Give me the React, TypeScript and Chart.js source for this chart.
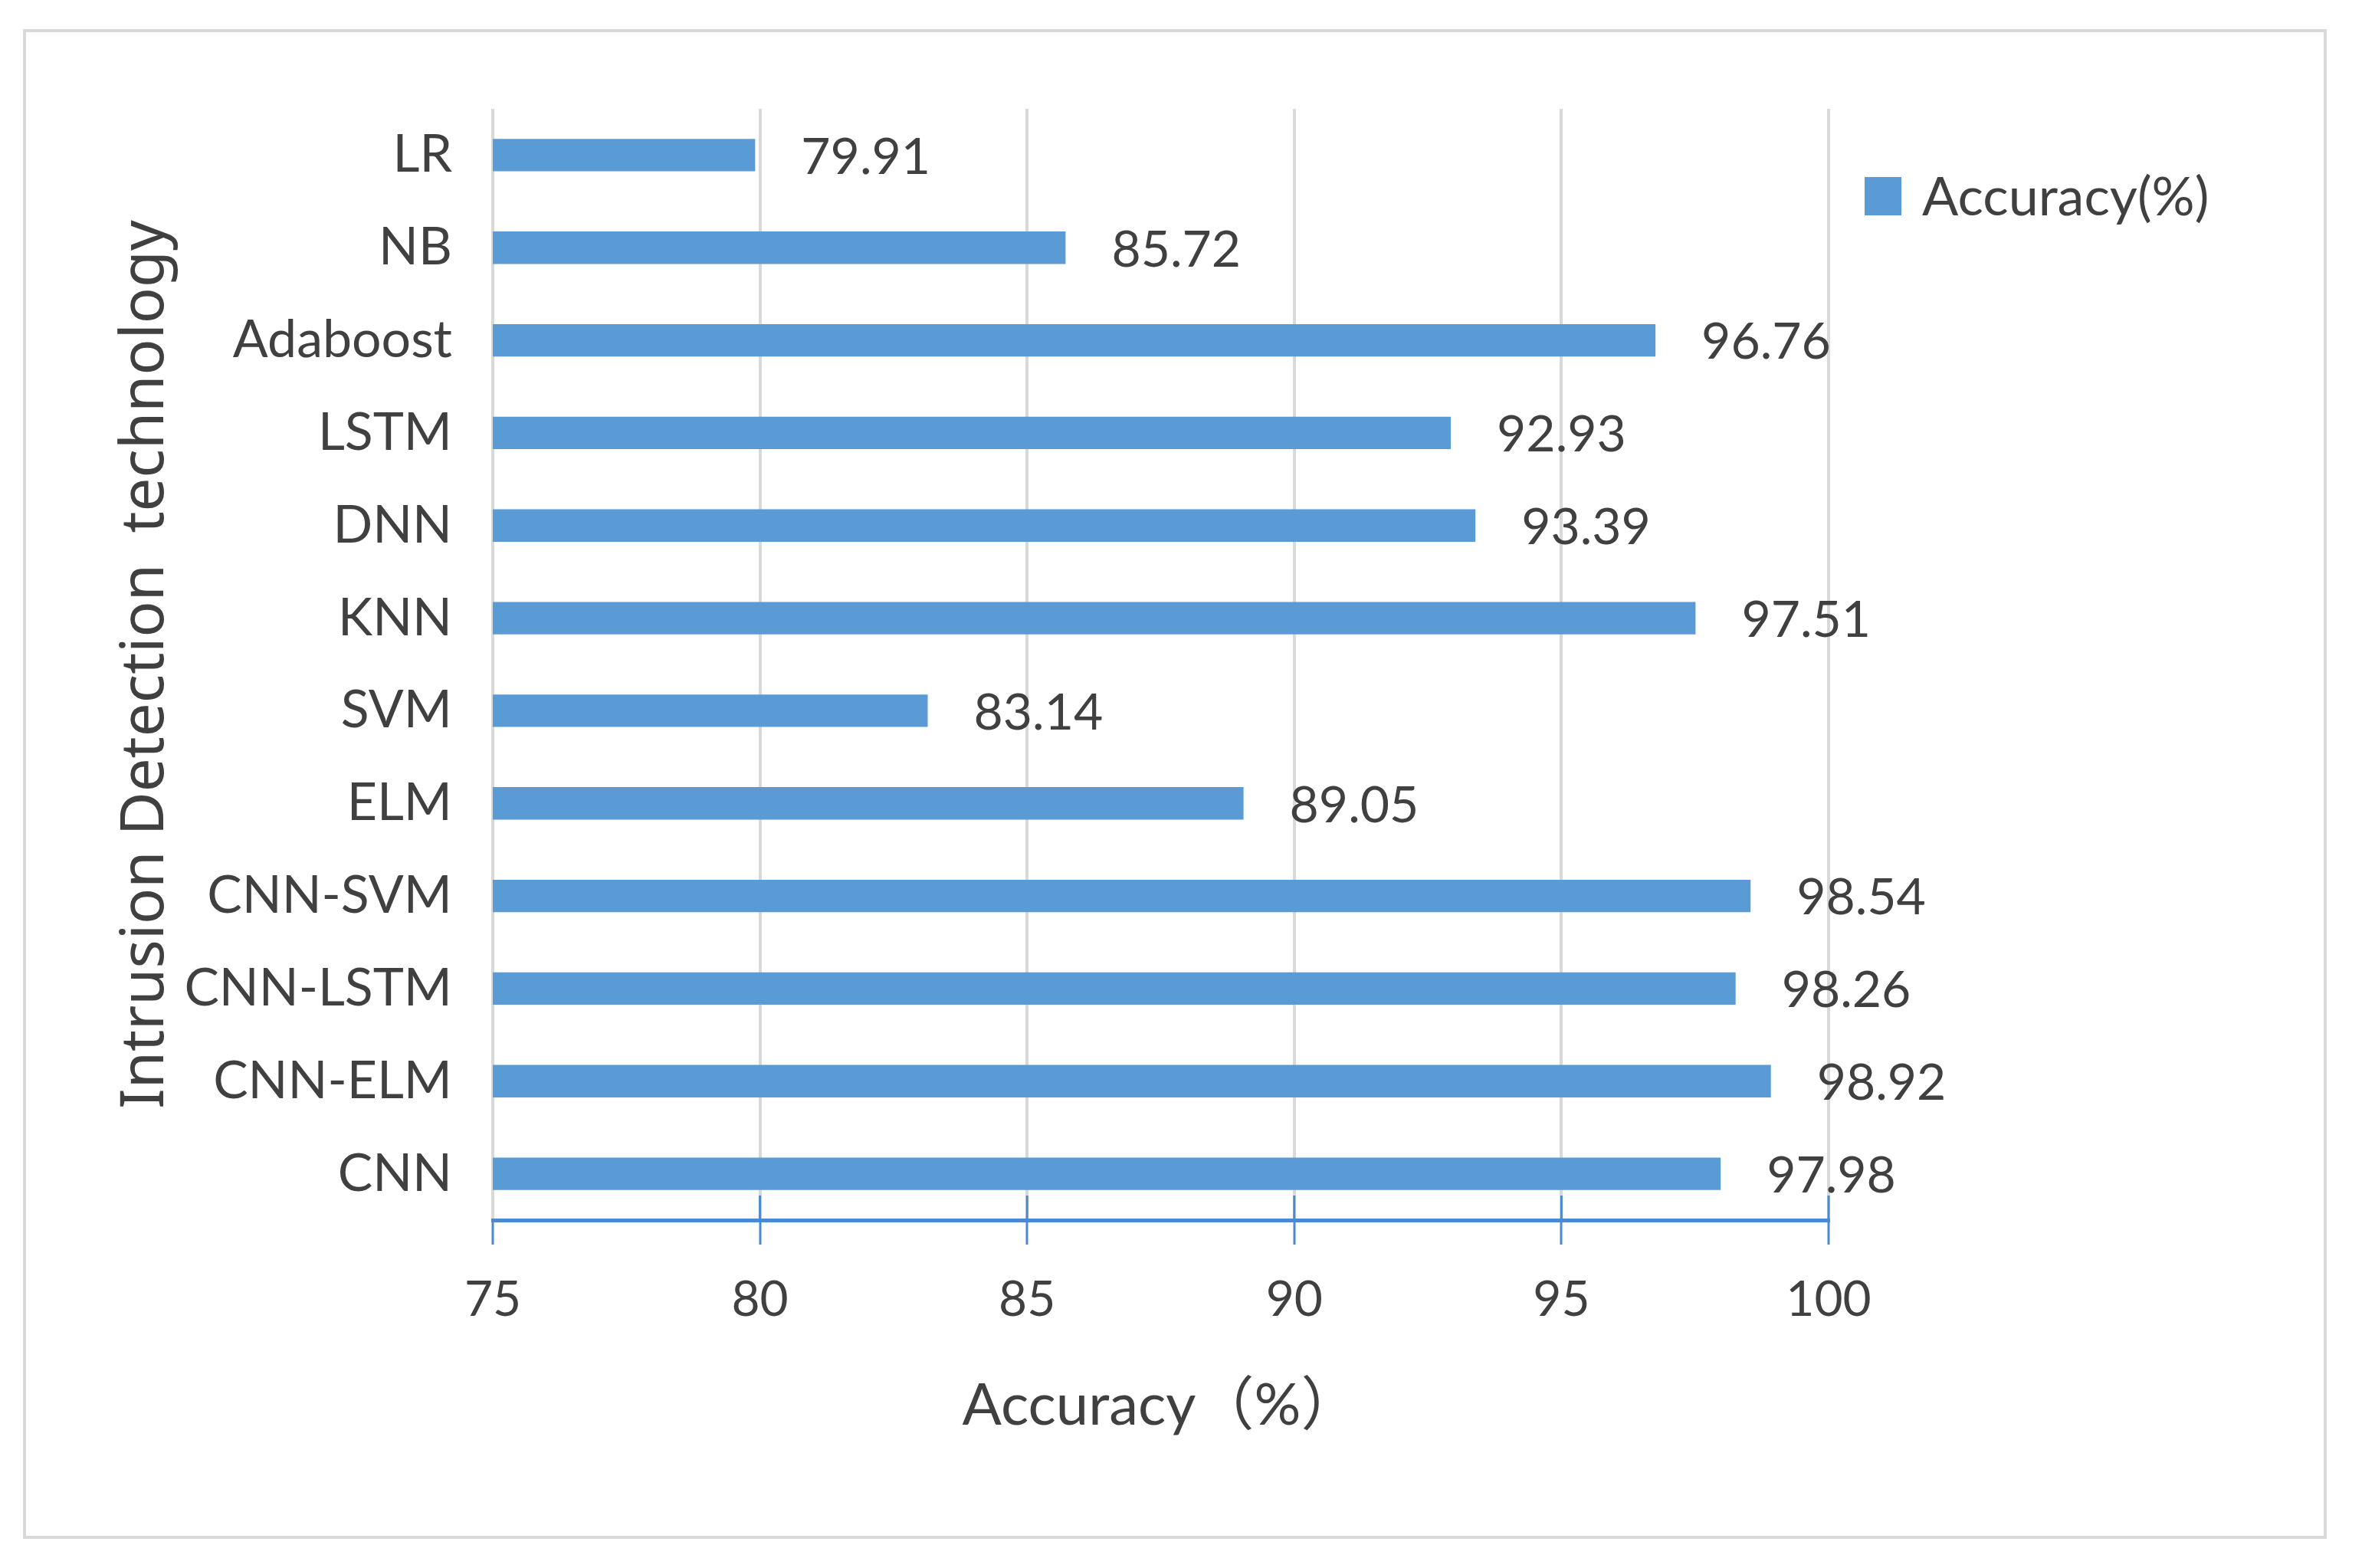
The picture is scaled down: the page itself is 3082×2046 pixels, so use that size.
import React, { useEffect, useRef } from "react";
import { Chart, registerables } from "chart.js";

Chart.register(...registerables);

// ---- data ----
const categories = [
  "LR",
  "NB",
  "Adaboost",
  "LSTM",
  "DNN",
  "KNN",
  "SVM",
  "ELM",
  "CNN-SVM",
  "CNN-LSTM",
  "CNN-ELM",
  "CNN",
];
const accuracy = [79.91, 85.72, 96.76, 92.93, 93.39, 97.51, 83.14, 89.05, 98.54, 98.26, 98.92, 97.98];
const xTickValues = [75, 80, 85, 90, 95, 100];
const seriesLabel = "Accuracy(%)";
const xTitle = "Accuracy（%）";
const yTitle = "Intrusion Detection  technology";

// ---- style ----
const W = 3082;
const H = 2046;
const AREA_LEFT = 643;
const AREA_RIGHT = 2386;
const AREA_TOP = 142;
const AREA_BOTTOM = 1592;
const BAR = "#5b9bd5";
const AXIS = "#4a8ad0";
const GRID = "#d9d9d9";
const TEXT = "#404040";
const LABEL_FONT = "Lato, 'Noto Sans CJK SC', sans-serif";

const crossTicks = {
  id: "crossTicks",
  afterDraw(chart: any) {
    const sx = chart.scales.x;
    const ctx = chart.ctx;
    const bottom = chart.chartArea.bottom;
    ctx.save();
    ctx.strokeStyle = AXIS;
    ctx.lineWidth = 3;
    sx.ticks.forEach((t: any, i: number) => {
      if (i === 0) return;
      const px = sx.getPixelForValue(t.value);
      ctx.beginPath();
      ctx.moveTo(px, bottom - 32);
      ctx.lineTo(px, bottom);
      ctx.stroke();
    });
    ctx.restore();
  },
};

const valueLabels = {
  id: "valueLabels",
  afterDatasetsDraw(chart: any) {
    const ctx = chart.ctx;
    const meta = chart.getDatasetMeta(0);
    const data = chart.data.datasets[0].data;
    ctx.save();
    ctx.font = `66px ${LABEL_FONT}`;
    ctx.fillStyle = TEXT;
    ctx.textAlign = "left";
    ctx.textBaseline = "middle";
    meta.data.forEach((el: any, i: number) => {
      ctx.fillText(Number(data[i]).toFixed(2), el.x + 60, el.y + 3);
    });
    ctx.restore();
  },
};

const sideLegend = {
  id: "sideLegend",
  afterDraw(chart: any) {
    const ctx = chart.ctx;
    const ds = chart.data.datasets[0];
    const area = chart.chartArea;
    const bx = area.right + 47;
    const cy = area.top + 114;
    ctx.save();
    ctx.fillStyle = ds.backgroundColor;
    ctx.fillRect(bx, cy - 25, 48, 50);
    ctx.font = `70px ${LABEL_FONT}`;
    ctx.fillStyle = TEXT;
    ctx.textAlign = "left";
    ctx.textBaseline = "middle";
    ctx.fillText(ds.label, bx + 75, cy + 2);
    ctx.restore();
  },
};

export default function App() {
  const ref = useRef<HTMLCanvasElement | null>(null);

  useEffect(() => {
    if (!ref.current) return;
    const chart = new Chart(ref.current, {
      type: "bar",
      data: {
        labels: categories,
        datasets: [
          {
            label: seriesLabel,
            data: accuracy,
            backgroundColor: BAR,
            borderWidth: 0,
            barPercentage: 0.35,
            categoryPercentage: 1,
          },
        ],
      },
      options: {
        indexAxis: "y",
        animation: false,
        responsive: false,
        maintainAspectRatio: false,
        layout: { padding: { left: 0, top: AREA_TOP, right: W - AREA_RIGHT, bottom: 0 } },
        plugins: {
          legend: { display: false },
          tooltip: { enabled: false },
        },
        scales: {
          x: {
            type: "linear",
            position: "bottom",
            min: 75,
            max: 100,
            afterBuildTicks: (scale: any) => {
              scale.ticks = xTickValues.map((v) => ({ value: v }));
            },
            afterFit: (scale: any) => {
              scale.height = H - AREA_BOTTOM;
            },
            grid: {
              color: GRID,
              lineWidth: 4,
              drawTicks: true,
              tickLength: 32,
              tickColor: AXIS,
              tickWidth: 3,
            },
            border: { display: true, color: AXIS, width: 5 },
            ticks: {
              padding: 34,
              color: TEXT,
              font: { family: LABEL_FONT, size: 64 },
            },
            title: {
              display: true,
              text: xTitle,
              color: TEXT,
              font: { family: LABEL_FONT, size: 76 },
              padding: { top: 0, bottom: 166 },
            },
          },
          y: {
            type: "category",
            position: "left",
            afterFit: (scale: any) => {
              scale.width = AREA_LEFT;
            },
            grid: { display: false, drawTicks: false },
            border: { display: false },
            ticks: {
              padding: 53,
              color: TEXT,
              font: { family: LABEL_FONT, size: 68 },
            },
            title: {
              display: true,
              text: yTitle,
              color: TEXT,
              font: { family: "'Noto Sans', sans-serif", size: 78 },
              padding: { top: 144, bottom: 0 },
            },
          },
        },
      },
      plugins: [crossTicks, valueLabels, sideLegend],
    } as any);
    return () => chart.destroy();
  }, []);

  return (
    <div
      style={{
        position: "fixed",
        left: 0,
        top: 0,
        width: W,
        height: H,
        background: "#ffffff",
        overflow: "hidden",
      }}
    >
      <div
        style={{
          position: "absolute",
          left: 30,
          top: 38,
          width: 3006 - 8,
          height: 1970 - 8,
          border: "4px solid #d9d9d9",
        }}
      />
      <canvas
        ref={ref}
        width={W}
        height={H}
        style={{ position: "absolute", left: 0, top: 0, width: W, height: H }}
      />
    </div>
  );
}
